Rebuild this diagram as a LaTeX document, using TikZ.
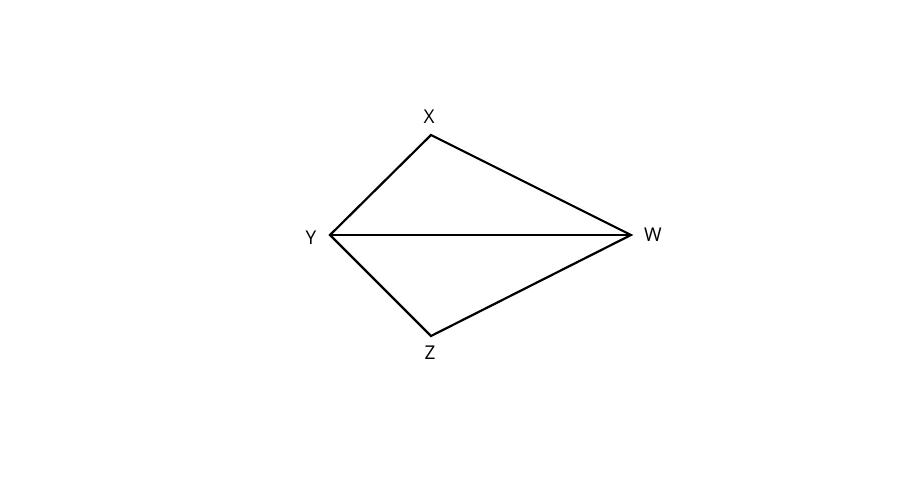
\documentclass[tikz,border=0pt]{standalone}
\usepackage{fontspec}
\setmainfont{Open Sans}
\begin{document}
\begin{tikzpicture}[x=1pt,y=-1pt,
  edge/.style={line width=2.2pt,line join=miter},
  lbl/.style={inner sep=0pt,font=\fontsize{19}{21}\selectfont}]
\useasboundingbox (0,0) rectangle (917,502);
\coordinate (X) at (431,135);
\coordinate (Y) at (330,235);
\coordinate (W) at (631,235);
\coordinate (Z) at (431,336);
\draw[edge] (Y) -- (X) -- (W) -- (Z) -- cycle;
\draw[edge] (Y) -- (W);
\node[lbl] (lx) at (429,117) {X};
\node[lbl] (ly) at (311,238) {Y};
\node[lbl] (lw) at (653,235) {W};
\node[lbl] (lz) at (430,353) {Z};
\end{tikzpicture}
\end{document}
